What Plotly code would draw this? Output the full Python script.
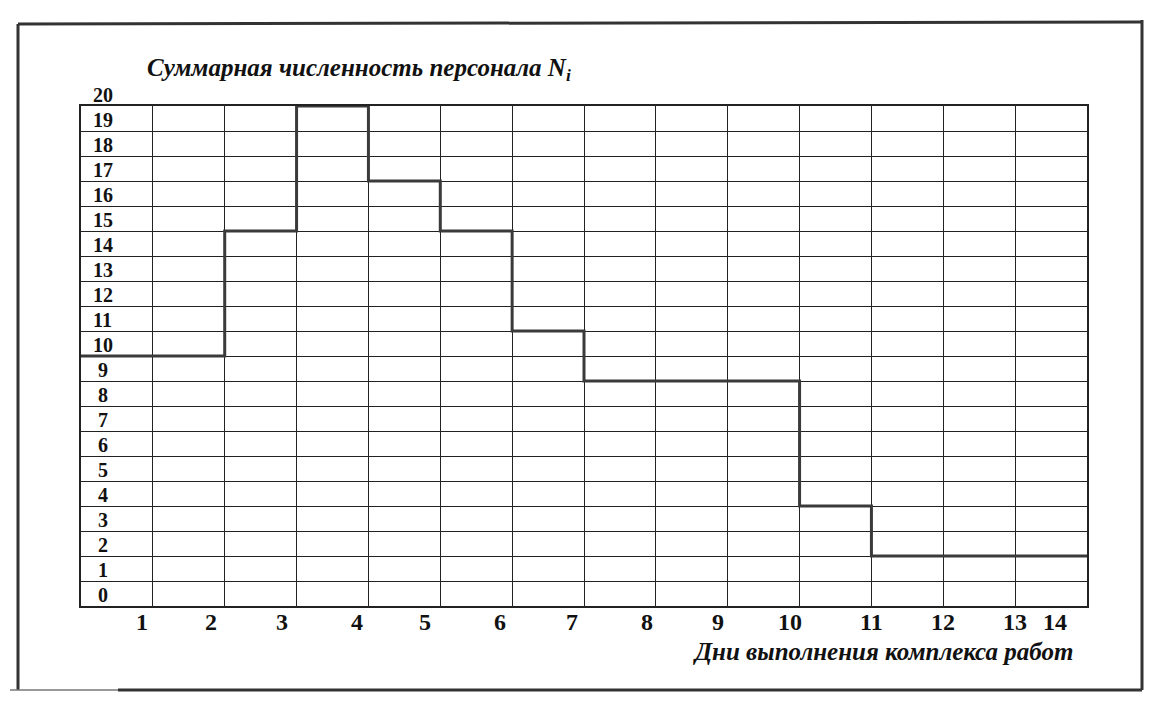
import plotly.graph_objects as go

# ---- data ----
day_edges = [0, 2, 3, 4, 5, 6, 7, 10, 11, 14]       # boundaries of the steps (days)
staff = [10, 15, 20, 17, 15, 11, 9, 4, 2]            # N_i on each interval
y_labels = [str(v) for v in range(0, 21)]            # 0..20
x_labels = [str(v) for v in range(1, 15)]            # 1..14

# positions of the hand-placed tick labels (layout, not data)
x_label_pos = [0.85, 1.81, 2.80, 3.84, 4.79, 5.83, 6.83, 7.88, 8.86, 9.87, 11.0, 12.0, 13.0, 13.55]

# build step path from data
xs, ys = [], []
for i, v in enumerate(staff):
    xs += [day_edges[i], day_edges[i + 1]]
    ys += [v, v]

OFF = 8  # page body margin
W, H = 1159 - OFF, 716 - OFF
L, R, T, B = 81 - OFF, 1087 - OFF, 106 - OFF, 606 - OFF
XMAX, YMAX = 14, 20

fig = go.Figure()
fig.add_trace(go.Scatter(x=xs, y=ys, mode="lines",
                         line=dict(color="#3a3a3a", width=3), hoverinfo="skip",
                         showlegend=False, cliponaxis=False))

FONT = "Liberation Serif, Times New Roman, serif"


def px(x):
    return (x - OFF - L) / (R - L)


def py(y):
    return (B - (y - OFF)) / (B - T)


ann = []
for k, lab in enumerate(y_labels):
    yy = k + 0.45
    ann.append(dict(x=0.3 / XMAX, y=yy / YMAX, xref="paper", yref="paper", text="<b>%s</b>" % lab,
                    showarrow=False, font=dict(family=FONT, size=20, color="#111"),
                    xanchor="center", yanchor="middle"))
for pos, lab in zip(x_label_pos, x_labels):
    ann.append(dict(x=pos / XMAX, y=-0.65 / YMAX, xref="paper", yref="paper", text="<b>%s</b>" % lab,
                    showarrow=False, font=dict(family=FONT, size=24, color="#111"),
                    xanchor="center", yanchor="middle"))

ann.append(dict(x=px(145), y=py(70), xref="paper", yref="paper",
                text="<b><i>Суммарная численность персонала N<sub>i</sub></i></b>",
                showarrow=False, font=dict(family=FONT, size=25, color="#111"),
                xanchor="left", yanchor="middle"))
ann.append(dict(x=px(1075), y=py(651), xref="paper", yref="paper",
                text="<b><i>Дни выполнения комплекса работ</i></b>",
                showarrow=False, font=dict(family=FONT, size=25, color="#111"),
                xanchor="right", yanchor="middle"))

frame_col = "#333"
shapes = [
    dict(type="line", xref="paper", yref="paper", x0=px(18), x1=px(1142), y0=py(24), y1=py(22),
         line=dict(color=frame_col, width=3)),
    dict(type="line", xref="paper", yref="paper", x0=px(18), x1=px(18), y0=py(24), y1=py(690),
         line=dict(color=frame_col, width=3)),
    dict(type="line", xref="paper", yref="paper", x0=px(1142), x1=px(1142), y0=py(20), y1=py(690),
         line=dict(color=frame_col, width=3)),
    dict(type="line", xref="paper", yref="paper", x0=px(118), x1=px(1142), y0=py(690), y1=py(690),
         line=dict(color=frame_col, width=3)),
    dict(type="line", xref="paper", yref="paper", x0=px(10), x1=px(118), y0=py(690), y1=py(690),
         line=dict(color="#777", width=1.5)),
]

fig.update_layout(
    width=W, height=H,
    margin=dict(l=L, r=W - R, t=T, b=H - B),
    paper_bgcolor="white", plot_bgcolor="white",
    xaxis=dict(range=[0, XMAX], dtick=1, tick0=0, showgrid=True, gridcolor="#222", gridwidth=1,
               showticklabels=False, ticks="", zeroline=False,
               showline=True, linecolor="#222", linewidth=1.5, mirror=True, fixedrange=True),
    yaxis=dict(range=[0, YMAX], dtick=1, tick0=0, showgrid=True, gridcolor="#222", gridwidth=1,
               showticklabels=False, ticks="", zeroline=False,
               showline=True, linecolor="#222", linewidth=1.5, mirror=True, fixedrange=True),
    annotations=ann,
    shapes=shapes,
    showlegend=False,
)

fig.write_html("out.html")
